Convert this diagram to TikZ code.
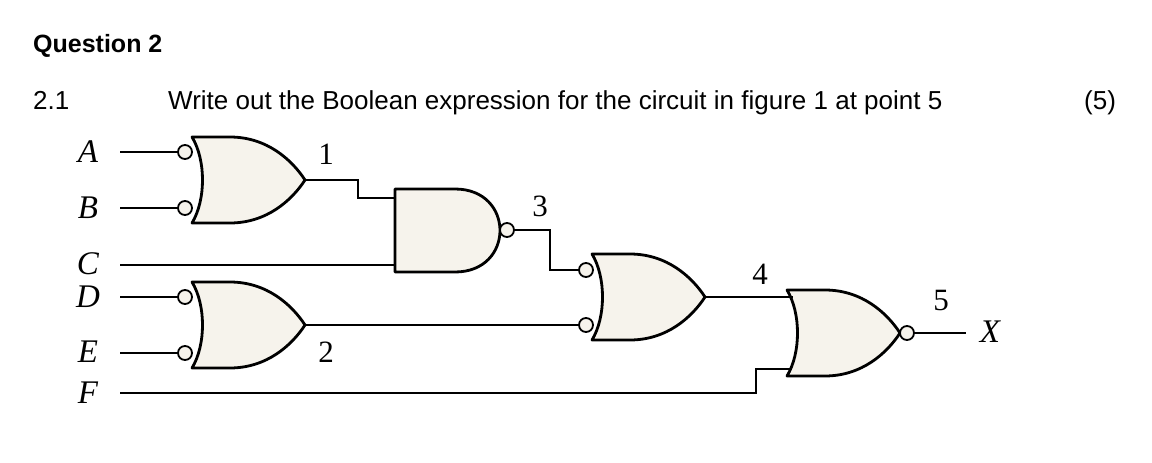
\documentclass[tikz,border=0pt]{standalone}
\usepackage{fontspec}
\setmainfont{Liberation Serif}
\newfontfamily\arialf{Liberation Sans}
\begin{document}
\begin{tikzpicture}[x=1pt,y=-1pt,
  gate/.style={draw=black,line width=2.8pt,fill=gatefill,line join=round},
  wire/.style={draw=black,line width=1.3pt},
  bub/.style={draw=black,line width=1.8pt,fill=gatefill},
  lab/.style={font=\fontsize{33}{33}\selectfont\itshape,inner sep=0pt},
  num/.style={font=\fontsize{31}{31}\selectfont,inner sep=0pt},
  txt/.style={font=\arialf\fontsize{26}{26}\selectfont,inner sep=0pt,anchor=base west}]
\definecolor{gatefill}{HTML}{F6F3EC}
\useasboundingbox (0,0) rectangle (1152,463);
\fill[white] (0,0) rectangle (1152,463);
\newcommand\myor[2]{%
 \draw[gate] (#1,#2-43) -- (#1+38,#2-43) .. controls (#1+75,#2-43) and (#1+100,#2-20) .. (#1+113,#2)
 .. controls (#1+100,#2+20) and (#1+75,#2+43) .. (#1+38,#2+43) -- (#1,#2+43)
 .. controls (#1+14,#2+20) and (#1+14,#2-20) .. cycle;}
\node[txt,font=\arialf\bfseries\fontsize{25}{25}\selectfont] (q) at (33,52) {Question 2};
\node[txt] (n) at (33,109) {2.1};
\node[txt] (t) at (168,109) {Write out the Boolean expression for the circuit in figure 1 at point 5};
\node[txt] (m) at (1084,109) {(5)};
% input labels
\node[lab] (A) at (88,152) {A};
\node[lab] (B) at (88,208) {B};
\node[lab] (C) at (88,264) {C};
\node[lab] (D) at (88,297) {D};
\node[lab] (E) at (88,352) {E};
\node[lab] (F) at (88,393) {F};
% gates
\myor{192}{180}
\myor{192}{325}
\myor{592}{297}
\myor{787}{333}
\draw[gate] (395,189) -- (455,189) .. controls (515,189) and (515,272) .. (455,272) -- (395,272) -- cycle;
% wires
\draw[wire] (120,152) -- (178,152);
\draw[wire] (120,208) -- (178,208);
\draw[wire] (120,297) -- (178,297);
\draw[wire] (120,353) -- (178,353);
\draw[wire] (305,180) -- (358,180) -- (358,198) -- (395,198);
\draw[wire] (120,265) -- (395,265);
\draw[wire] (514,230) -- (550,230) -- (550,270) -- (578,270);
\draw[wire] (305,325) -- (578,325);
\draw[wire] (705,297) -- (793,297);
\draw[wire] (120,393) -- (756,393) -- (756,369) -- (791,369);
\draw[wire] (915,333) -- (966,333);
% bubbles
\foreach \p in {(185,152),(185,208),(185,297),(185,353),(507,230),(586,270),(586,325),(907,333)}
  \draw[bub] \p circle (7);
% point labels
\node[num] (l1) at (326,154) {1};
\node[num] (l2) at (326,352) {2};
\node[num] (l3) at (540,206) {3};
\node[num] (l4) at (760,274) {4};
\node[num] (l5) at (941,300) {5};
\node[lab] (X) at (990,332) {X};
\end{tikzpicture}
\end{document}
